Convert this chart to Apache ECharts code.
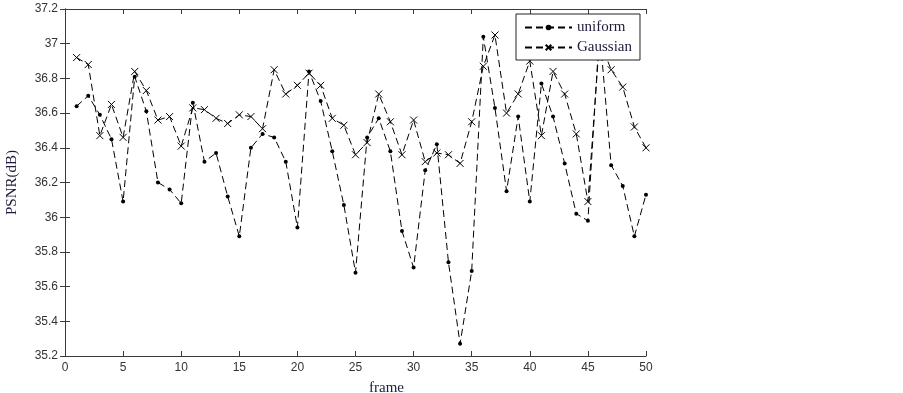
<!DOCTYPE html>
<html>
<head>
<meta charset="utf-8">
<script src="https://cdn.jsdelivr.net/npm/echarts@6/dist/echarts.min.js"></script>
<style>
    html, body { margin: 0; padding: 0; background: #fff; }
    #chart { width: 903px; height: 393px; }
</style>
</head>
<body>
<div id="chart"></div>
<script>
var frames = [1, 2, 3, 4, 5, 6, 7, 8, 9, 10,
    11, 12, 13, 14, 15, 16, 17, 18, 19, 20,
    21, 22, 23, 24, 25, 26, 27, 28, 29, 30,
    31, 32, 33, 34, 35, 36, 37, 38, 39, 40,
    41, 42, 43, 44, 45, 46, 47, 48, 49, 50];

var uniformPSNR = [36.64, 36.70, 36.59, 36.45, 36.09, 36.81, 36.61, 36.20, 36.16, 36.08,
    36.66, 36.32, 36.37, 36.12, 35.89, 36.40, 36.48, 36.46, 36.32, 35.94,
    36.84, 36.67, 36.38, 36.07, 35.68, 36.46, 36.57, 36.38, 35.92, 35.71,
    36.27, 36.42, 35.74, 35.27, 35.69, 37.04, 36.63, 36.15, 36.58, 36.09,
    36.77, 36.58, 36.31, 36.02, 35.98, 37.08, 36.30, 36.18, 35.89, 36.13];

var gaussianPSNR = [36.92, 36.88, 36.47, 36.65, 36.46, 36.84, 36.73, 36.56, 36.58, 36.41,
    36.63, 36.62, 36.57, 36.54, 36.59, 36.58, 36.51, 36.85, 36.71, 36.76,
    36.83, 36.76, 36.57, 36.53, 36.36, 36.43, 36.71, 36.55, 36.36, 36.56,
    36.32, 36.37, 36.36, 36.31, 36.55, 36.87, 37.05, 36.60, 36.71, 36.90,
    36.47, 36.84, 36.71, 36.48, 36.09, 37.02, 36.85, 36.75, 36.52, 36.40];

var seriesNames = ['uniform', 'Gaussian'];

function pairs(xs, ys) {
    return xs.map(function (x, i) { return [x, ys[i]]; });
}

var chartDom = document.getElementById('chart');
var myChart = echarts.init(chartDom);

var axisColor = '#3a3a3a';
var sans = '"Liberation Sans", Arial, sans-serif';
var serif = '"Liberation Serif", "Times New Roman", serif';

var option = {
    animation: false,
    grid: {
        left: 65,
        right: 257,
        top: 9,
        bottom: 37,
        outerBoundsMode: 'none'
    },
    legend: {
        data: seriesNames,
        orient: 'vertical',
        left: 516,
        top: 14,
        padding: [6, 8, 5, 8],
        itemWidth: 47,
        itemHeight: 7,
        itemGap: 5,
        backgroundColor: '#fff',
        borderColor: '#222',
        borderWidth: 1,
        z: 10,
        textStyle: {
            fontFamily: serif,
            fontSize: 15,
            color: '#1c1c3a'
        }
    },
    xAxis: [
        {
            type: 'value',
            min: 0,
            max: 50,
            interval: 5,
            name: 'frame',
            nameLocation: 'middle',
            nameGap: 25,
            nameTextStyle: {
                fontFamily: serif,
                fontSize: 15,
                color: '#1c1c3a',
                padding: [0, 0, 0, 62]
            },
            axisLine: { lineStyle: { color: axisColor } },
            axisTick: { inside: true, length: 5, lineStyle: { color: axisColor } },
            axisLabel: { fontFamily: sans, fontSize: 12, color: '#333', margin: 6 },
            splitLine: { show: false }
        },
        {
            type: 'value',
            position: 'top',
            min: 0,
            max: 50,
            interval: 5,
            axisLine: { lineStyle: { color: axisColor } },
            axisTick: { inside: true, length: 5, lineStyle: { color: axisColor } },
            axisLabel: { show: false },
            splitLine: { show: false }
        }
    ],
    yAxis: [
        {
            type: 'value',
            min: 35.2,
            max: 37.2,
            interval: 0.2,
            name: 'PSNR(dB)',
            nameLocation: 'middle',
            nameGap: 45,
            nameTextStyle: {
                fontFamily: serif,
                fontSize: 15,
                color: '#1c1c3a'
            },
            axisLine: { show: true, lineStyle: { color: axisColor } },
            axisTick: { show: true, inside: true, length: 5, lineStyle: { color: axisColor } },
            axisLabel: { fontFamily: sans, fontSize: 12, color: '#333', margin: 7 },
            splitLine: { show: false }
        },
        {
            type: 'value',
            position: 'right',
            min: 35.2,
            max: 37.2,
            interval: 0.2,
            axisLine: { show: true, lineStyle: { color: axisColor } },
            axisTick: { show: true, inside: true, length: 5, lineStyle: { color: axisColor } },
            axisLabel: { show: false },
            splitLine: { show: false }
        }
    ],
    series: [
        {
            name: 'uniform',
            type: 'line',
            xAxisIndex: 0,
            yAxisIndex: 0,
            data: pairs(frames, uniformPSNR),
            symbol: 'circle',
            symbolSize: 4,
            showAllSymbol: true,
            itemStyle: { color: '#000' },
            lineStyle: { color: '#000', width: 1, type: [7, 4] }
        },
        {
            name: 'Gaussian',
            type: 'line',
            xAxisIndex: 0,
            yAxisIndex: 0,
            data: pairs(frames, gaussianPSNR),
            symbol: 'path://M0,0L10,10M10,0L0,10',
            symbolSize: 7,
            showAllSymbol: true,
            itemStyle: { color: '#000', borderColor: '#000', borderWidth: 1 },
            lineStyle: { color: '#000', width: 1, type: [7, 4] }
        }
    ]
};

option && myChart.setOption(option);
</script>
</body>
</html>
